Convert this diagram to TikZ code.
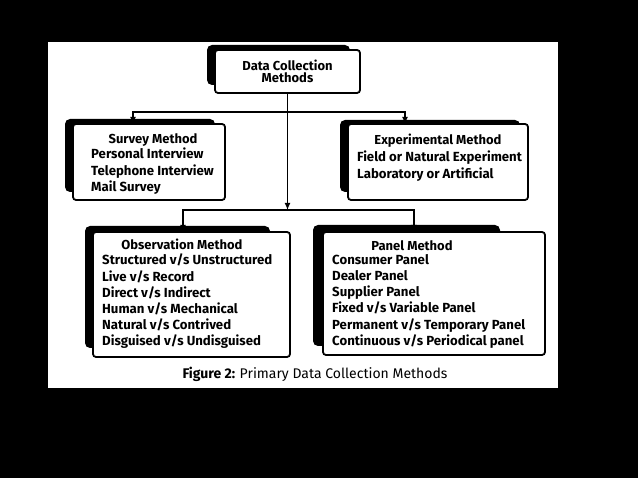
\documentclass[tikz,border=0pt]{standalone}
\usepackage{fontspec}
\setmainfont{Fira Sans}
\usetikzlibrary{arrows.meta}
\begin{document}
\begin{tikzpicture}[x=1pt,y=-1pt,
  box/.style={draw=black,line width=1.8pt,rounded corners=3pt,fill=white},
  shad/.style={fill=black,rounded corners=5pt},
  ttl/.style={font=\fontsize{13}{15}\selectfont\bfseries},
  txt/.style={font=\fontsize{13.2}{16.2}\selectfont\bfseries,align=left,anchor=north west,inner sep=0},
  conn/.style={line width=1.3pt,-{Latex[length=7pt,width=6pt]}}]
\fill[black] (0,0) rectangle (638,478);
\useasboundingbox (0,0) rectangle (638,478);
\fill[white] (48,42) rectangle (558,388);
% shadows
\fill[shad] (207,45) rectangle (350,85);
\fill[shad] (65,119) rectangle (215,192);
\fill[shad] (340,120) rectangle (520,192);
\fill[shad] (85,226) rectangle (270,348);
\fill[shad] (313,225) rectangle (500,346);
% boxes
\draw[box] (215,50) rectangle (360,93);
\node[ttl,align=center] (top) at (287.5,71.5) {Data Collection\\[-3pt]Methods};
\coordinate (topb) at (287.5,93);
\draw[box] (73,124) rectangle (225,200);
\node[ttl] (sv) at (153,140) {Survey Method};
\node[txt] (svt) at (91,148) {Personal Interview\\Telephone Interview\\Mail Survey};
\draw[box] (348,124) rectangle (528,200);
\node[ttl] (ex) at (438,141) {Experimental Method};
\node[txt] (ext) at (357,151) {Field or Natural Experiment\\Laboratory or Artificial};
\draw[box] (93,232) rectangle (290,357);
\node[ttl] (ob) at (182,244) {Observation Method};
\node[txt] (obt) at (102,254) {Structured v/s Unstructured\\Live v/s Record\\Direct v/s Indirect\\Human v/s Mechanical\\Natural v/s Contrived\\Disguised v/s Undisguised};
\draw[box] (323,232) rectangle (545,355);
\node[ttl] (pn) at (412,246) {Panel Method};
\node[txt] (pnt) at (332,254) {Consumer Panel\\Dealer Panel\\Supplier Panel\\Fixed v/s Variable Panel\\Permanent v/s Temporary Panel\\Continuous v/s Periodical panel};
% connectors
\coordinate (j1) at (287.5,112);
\coordinate (j2) at (287.5,210);
\coordinate (sa) at (133,112); \coordinate (sb) at (133,124);
\coordinate (ea) at (405,112); \coordinate (eb) at (405,124);
\coordinate (oa) at (183,210); \coordinate (ob2) at (183,232);
\coordinate (pa) at (414,210); \coordinate (pb) at (414,232);
\draw[line width=1.3pt] (topb) -- (j1);
\draw[conn] (j1) -- (j2);
\draw[conn] (j1) -- (sa) -- (sb);
\draw[conn] (j1) -- (ea) -- (eb);
\draw[conn] (j2) -- (oa) -- (ob2);
\draw[conn] (j2) -- (pa) -- (pb);
\node[font=\fontsize{14}{16}\selectfont\bfseries] (cap) at (315,374) {Figure 2: \mdseries Primary Data Collection Methods};
\end{tikzpicture}
\end{document}
